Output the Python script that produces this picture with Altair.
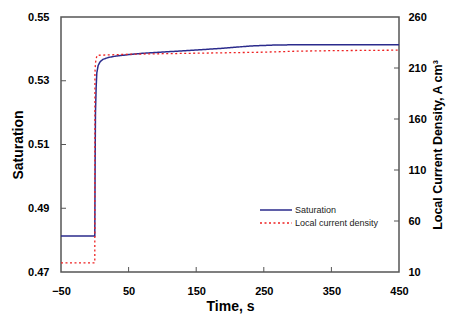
import altair as alt
import pandas as pd

# Saturation (left axis) versus time
sat_time = [-50, -0.5, 0, 0.5, 1, 2, 3, 5, 8, 12, 20, 30, 50, 70, 100, 140, 190, 230, 265, 300, 450]
sat_value = [0.4813, 0.4813, 0.4813, 0.505, 0.520, 0.528, 0.5325, 0.5348, 0.5360, 0.5367,
             0.5373, 0.5377, 0.5382, 0.5386, 0.5390, 0.5395, 0.5402, 0.5409, 0.5412, 0.5413, 0.5413]

# Local current density (right axis) versus time
cd_time = [-50, 0, 0.2, 1, 3, 5, 50, 100, 200, 250, 300, 350, 450]
cd_value = [19, 19, 205, 215, 222, 222.5, 223.5, 224, 225, 225.5, 226.5, 227, 227.5]

series_names = ["Saturation", "Local current density"]
series_colors = ["#2b2b8c", "#ee2222"]
x_ticks = [-50, 50, 150, 250, 350, 450]
left_ticks = [0.47, 0.49, 0.51, 0.53, 0.55]
right_ticks = [10, 60, 110, 160, 210, 260]

sat_df = pd.DataFrame({"t": sat_time, "v": sat_value, "series": series_names[0],
                       "i": range(len(sat_time))})
cd_df = pd.DataFrame({"t": cd_time, "v": cd_value, "series": series_names[1],
                      "i": range(len(cd_time))})
xt_df = pd.DataFrame({"t": x_ticks[1:-1]})
lt_df = pd.DataFrame({"v": left_ticks[1:-1]})
rt_df = pd.DataFrame({"v": right_ticks[1:-1]})

FONT = "Liberation Sans"
AX = "#555555"

x_scale = alt.Scale(domain=[-50, 450], nice=False, zero=False)
x_axis = alt.Axis(values=x_ticks, title="Time, s", ticks=False, domain=False, grid=False,
                  labelFont=FONT, labelFontWeight="bold", labelFontSize=11, labelColor="black",
                  labelPadding=13, titleFont=FONT, titleFontWeight="bold", titleFontSize=14,
                  titleX=169, titleY=34, titleBaseline="middle", labelFlush=False)
yl_scale = alt.Scale(domain=[0.47, 0.55], nice=False, zero=False)
yl_axis = alt.Axis(values=left_ticks, format=".2f", title="Saturation", ticks=False, domain=False,
                   grid=False, labelFont=FONT, labelFontWeight="bold", labelFontSize=11,
                   labelColor="black", labelPadding=12, titleFont=FONT, titleFontWeight="bold",
                   titleFontSize=14, titleAngle=270, titleX=-43, titleY=127.5,
                   titleAlign="center", titleBaseline="middle")
yr_scale = alt.Scale(domain=[10, 260], nice=False, zero=False)
yr_axis = alt.Axis(values=right_ticks, orient="right", title="Local Current Density, A cm\u00b3",
                   ticks=False, domain=False, grid=False, labelFont=FONT, labelFontWeight="bold",
                   labelFontSize=11, labelColor="black", labelPadding=9, titleFont=FONT,
                   titleFontWeight="bold", titleFontSize=12.5, titleAngle=270, titleX=38,
                   titleY=127.5, titleAlign="center", titleBaseline="middle", labelFlush=False)

color = alt.Color("series:N", scale=alt.Scale(domain=series_names, range=series_colors),
                  legend=None)
dash = alt.StrokeDash("series:N", scale=alt.Scale(domain=series_names, range=[[1, 0], [2, 2.5]]),
                      legend=None)

sat_line = alt.Chart(sat_df).mark_line(strokeWidth=1.5).encode(
    x=alt.X("t:Q", scale=x_scale, axis=x_axis),
    y=alt.Y("v:Q", scale=yl_scale, axis=yl_axis),
    color=color, strokeDash=dash, order="i:Q")

left_tick_marks = alt.Chart(lt_df).mark_rule(color=AX, strokeWidth=1).encode(
    y=alt.Y("v:Q", scale=yl_scale, axis=yl_axis), x=alt.value(0), x2=alt.value(5))

bottom_tick_marks = alt.Chart(xt_df).mark_rule(color=AX, strokeWidth=1).encode(
    x=alt.X("t:Q", scale=x_scale, axis=x_axis), y=alt.value(255), y2=alt.value(250))

# In-plot legend: sample line plus label for each series
legend_rows = []
for k, (name, col) in enumerate(zip(series_names, series_colors)):
    ypos = 193 + 13 * k
    line = alt.Chart(pd.DataFrame({"s": [name]})).mark_rule(
        color=col, strokeWidth=1.4, strokeDash=[1, 0] if k == 0 else [2, 2.5]
    ).encode(x=alt.value(199), x2=alt.value(231), y=alt.value(ypos))
    text = alt.Chart(pd.DataFrame({"s": [name]})).mark_text(
        align="left", baseline="middle", font=FONT, fontSize=9, color="#222222"
    ).encode(text="s:N", x=alt.value(234), y=alt.value(ypos))
    legend_rows += [line, text]

cd_line = alt.Chart(cd_df).mark_line(strokeWidth=1.3).encode(
    x=alt.X("t:Q", scale=x_scale, axis=x_axis),
    y=alt.Y("v:Q", scale=yr_scale, axis=yr_axis),
    color=color, strokeDash=dash, order="i:Q")

right_tick_marks = alt.Chart(rt_df).mark_rule(color=AX, strokeWidth=1).encode(
    y=alt.Y("v:Q", scale=yr_scale, axis=yr_axis), x=alt.value(338), x2=alt.value(333))

left = alt.layer(sat_line, left_tick_marks, bottom_tick_marks, *legend_rows)
right = alt.layer(cd_line, right_tick_marks)

chart = alt.layer(left, right).resolve_scale(y="independent").properties(
    width=338, height=255,
    autosize=alt.AutoSizeParams(type="none"),
    padding={"left": 61, "top": 17, "right": 75, "bottom": 49},
    background="white",
).configure_view(stroke=AX, strokeWidth=1.5)

chart.save("out.html", embed_options={"renderer": "svg", "actions": False})
